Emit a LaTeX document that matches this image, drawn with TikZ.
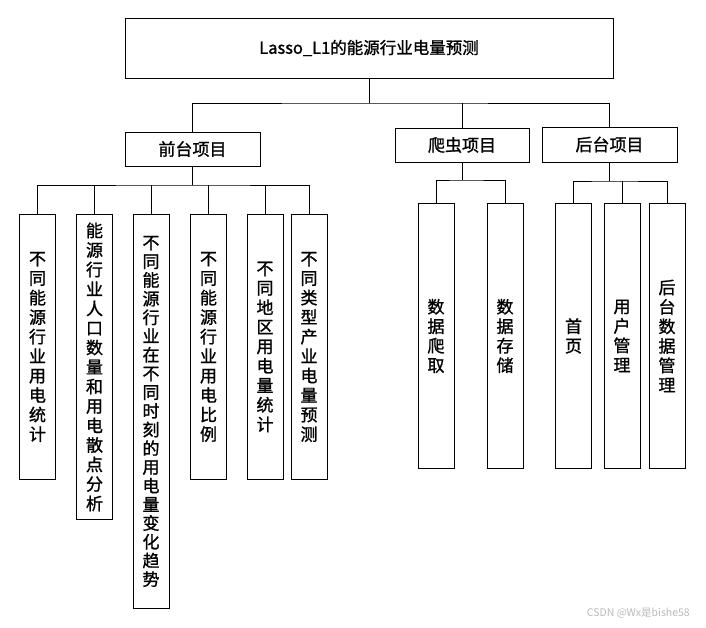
\documentclass[tikz,border=0pt]{standalone}
\usepackage{fontspec}
\newfontfamily\cjk[FakeBold=1.2]{Noto Sans CJK SC}
\newfontfamily\cjkmark{Noto Sans CJK SC}

\begin{document}
\begin{tikzpicture}[x=1pt,y=-1pt,
  box/.style={draw,line width=0.9pt,inner sep=0pt,font=\cjk\fontsize{17}{19.5}\selectfont},
  tall/.style={box,align=center,minimum width=36pt,anchor=north},
  wire/.style={line width=0.9pt}]
\useasboundingbox (0,0) rectangle (706,627);
% top level
\node[box,minimum width=488pt,minimum height=60pt,font=\cjk\fontsize{16.5}{19.5}\selectfont] (top) at (369,48) {Lasso\_L1的能源行业电量预测};
\node[box,minimum width=135pt,minimum height=34pt] (front) at (192.5,149) {前台项目};
\node[box,minimum width=134pt,minimum height=34pt] (crawl) at (462,145) {爬虫项目};
\node[box,minimum width=135pt,minimum height=35pt] (back) at (609.5,144.5) {后台项目};
% front pages
\node[tall,minimum height=265pt] (f1) at (37.5,214) {不\\同\\能\\源\\行\\业\\用\\电\\统\\计};
\node[tall,minimum height=305pt] (f2) at (94.5,214) {能\\源\\行\\业\\人\\口\\数\\量\\和\\用\\电\\散\\点\\分\\析};
\node[tall,minimum height=394pt,font=\cjk\fontsize{17}{18.7}\selectfont] (f3) at (151,214)
  {不\\同\\能\\源\\行\\业\\在\\不\\同\\时\\刻\\的\\用\\电\\量\\变\\化\\趋\\势};
\node[tall,minimum height=265pt] (f4) at (208.5,214) {不\\同\\能\\源\\行\\业\\用\\电\\比\\例};
\node[tall,minimum height=265pt] (f5) at (265,214) {不\\同\\地\\区\\用\\电\\量\\统\\计};
\node[tall,minimum height=265pt] (f6) at (309,214) {不\\同\\类\\型\\产\\业\\电\\量\\预\\测};
% crawler and admin
\node[tall,minimum height=265pt] (r1) at (436,203) {数\\据\\爬\\取};
\node[tall,minimum height=265pt] (r2) at (505,203) {数\\据\\存\\储};
\node[tall,minimum height=265pt] (b1) at (573.5,203) {首\\页};
\node[tall,minimum height=265pt] (b2) at (622,203) {用\\户\\管\\理};
\node[tall,minimum height=265pt] (b3) at (667,203) {后\\台\\数\\据\\管\\理};
% buses
\coordinate (bus0) at (369,103);
\coordinate (bus1) at (192.5,185);
\coordinate (bus2) at (462,180);
\coordinate (bus3) at (609.5,181);
\draw[wire] (top.south) -- (bus0);
\draw[wire] (front.north) |- (bus0) -| (back.north);
\draw[wire] (crawl.north) -- (crawl.north |- bus0);
\draw[wire] (front.south) -- (bus1);
\draw[wire] (f1.north) |- (bus1) -| (f6.north);
\foreach \n in {f2,f3,f4,f5}
  \draw[wire] (\n.north) -- (\n.north |- bus1);
\draw[wire] (crawl.south) -- (bus2);
\draw[wire] (r1.north) |- (bus2) -| (r2.north);
\draw[wire] (back.south) -- (bus3);
\draw[wire] (b1.north) |- (bus3) -| (b3.north);
\draw[wire] (b2.north) -- (b2.north |- bus3);
\node[anchor=east,inner sep=0pt,text=gray!55,font=\cjkmark\fontsize{10.5}{12}\selectfont] (mark) at (690,613) {CSDN @Wx是bishe58};
\end{tikzpicture}
\end{document}
